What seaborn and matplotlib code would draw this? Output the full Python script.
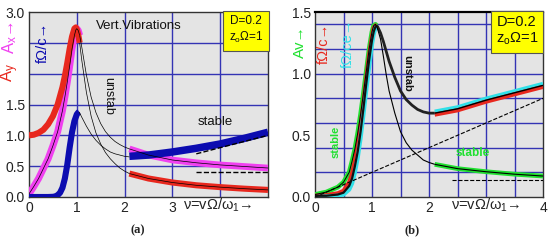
import matplotlib
matplotlib.use("Agg")
import matplotlib.pyplot as plt
import seaborn as sns

# ---------------- Panel (a) data ----------------
a_rise_x = [0, 0.1, 0.2, 0.3, 0.4, 0.5, 0.6, 0.7, 0.75, 0.8, 0.85, 0.9, 0.95, 0.98, 1.0, 1.03, 1.06]
Ay_rise = [1.00, 1.01, 1.04, 1.09, 1.18, 1.31, 1.50, 1.78, 1.96, 2.17, 2.40, 2.60, 2.73, 2.75, 2.72, 2.63, 2.50]
Ax_rise = [0.05, 0.17, 0.30, 0.46, 0.62, 0.83, 1.06, 1.40, 1.62, 1.86, 2.12, 2.40, 2.62, 2.71, 2.73, 2.70, 2.62]
fc_rise_x = [0, 0.2, 0.4, 0.5, 0.55, 0.6, 0.65, 0.7, 0.75, 0.8, 0.85, 0.9, 0.95, 1.0, 1.03, 1.05]
fc_rise = [0, 0, 0, 0.003, 0.01, 0.03, 0.07, 0.15, 0.30, 0.52, 0.80, 1.05, 1.23, 1.34, 1.37, 1.38]

a_unst_x = [1.06, 1.1, 1.2, 1.3, 1.4, 1.5, 1.6, 1.7, 1.8, 1.9, 2.0, 2.1]
Ay_unst = [2.50, 2.24, 1.70, 1.31, 1.04, 0.86, 0.72, 0.62, 0.54, 0.47, 0.42, 0.38]
Ax_unst = [2.62, 2.45, 1.98, 1.62, 1.37, 1.19, 1.06, 0.97, 0.90, 0.85, 0.81, 0.78]
fc_unst_x = [1.05, 1.1, 1.2, 1.3, 1.4, 1.5, 1.6, 1.7, 1.8, 1.9, 2.0, 2.1]
fc_unst = [1.38, 1.30, 1.15, 1.02, 0.92, 0.84, 0.78, 0.73, 0.70, 0.68, 0.66, 0.65]

a_st_x = [2.1, 2.5, 3.0, 3.5, 4.0, 4.5, 5.0]
Ay_st = [0.38, 0.30, 0.235, 0.19, 0.16, 0.135, 0.115]
Ax_st = [0.78, 0.68, 0.60, 0.555, 0.52, 0.495, 0.47]
fc_st = [0.66, 0.68, 0.73, 0.79, 0.86, 0.95, 1.05]

a_asym_x = [3.5, 5.0]
a_asym_y = [0.70, 1.00]
a_hl_x = [3.5, 5.0]
a_hl_y = [0.40, 0.40]

# ---------------- Panel (b) data ----------------
b_rise_x = [0, 0.2, 0.4, 0.5, 0.6, 0.65, 0.7, 0.75, 0.8, 0.85, 0.9, 0.95, 1.0, 1.03, 1.06, 1.08]
Av_rise = [0.02, 0.04, 0.08, 0.12, 0.20, 0.29, 0.39, 0.52, 0.67, 0.84, 1.02, 1.20, 1.34, 1.39, 1.40, 1.39]
fc_b_rise = [0.01, 0.015, 0.03, 0.05, 0.12, 0.19, 0.29, 0.42, 0.58, 0.76, 0.96, 1.15, 1.30, 1.37, 1.39, 1.39]
fce_rise = [0.0, 0.005, 0.01, 0.02, 0.06, 0.11, 0.20, 0.32, 0.48, 0.67, 0.87, 1.06, 1.24, 1.32, 1.37, 1.38]
blk_rise = [0.01, 0.01, 0.02, 0.035, 0.09, 0.15, 0.25, 0.37, 0.53, 0.72, 0.92, 1.11, 1.27, 1.34, 1.38, 1.39]

b_up_unst_x = [1.08, 1.1, 1.15, 1.2, 1.3, 1.4, 1.5, 1.6, 1.7, 1.8, 1.9, 2.0, 2.1]
b_up_unst = [1.39, 1.38, 1.33, 1.26, 1.10, 0.97, 0.86, 0.79, 0.745, 0.71, 0.69, 0.68, 0.68]
b_lo_unst_x = [1.08, 1.1, 1.15, 1.2, 1.25, 1.3, 1.4, 1.5, 1.6, 1.7, 1.8, 1.9, 2.0, 2.1]
b_lo_unst = [1.39, 1.36, 1.28, 1.14, 0.99, 0.86, 0.68, 0.53, 0.44, 0.38, 0.34, 0.30, 0.28, 0.265]

b_st_x = [2.1, 2.5, 3.0, 3.5, 4.0]
fc_b_st = [0.668, 0.703, 0.773, 0.833, 0.893]
fce_st = [0.692, 0.727, 0.797, 0.857, 0.917]
up_st = [0.68, 0.715, 0.785, 0.845, 0.905]
Av_st = [0.265, 0.23, 0.205, 0.185, 0.17]

b_diag_x = [0, 4]
b_diag_y = [0, 0.8]
b_hl_x = [2.4, 4]
b_hl_y = [0.14, 0.14]

# ---------------- style ----------------
sns.set_theme(style="white")
plt.rcParams["font.family"] = ["Liberation Sans", "DejaVu Sans"]
plt.rcParams["mathtext.fontset"] = "custom"
plt.rcParams["mathtext.rm"] = "Liberation Sans"
plt.rcParams["mathtext.it"] = "Liberation Sans"
plt.rcParams["mathtext.bf"] = "Liberation Sans:bold"

RED = "#e8281e"
MAG = "#f040f0"
BLUE = "#0c0cb0"
GREEN = "#20e030"
CYAN = "#30e0e8"
GRID = "#3434b4"
BG = "#e4e4e4"

W, H = 550, 242
fig = plt.figure(figsize=(5.5, 2.42), dpi=100)


def px_axes(l, t, r, b):
    return fig.add_axes([l / W, 1 - b / H, (r - l) / W, (b - t) / H])


def line(ax, x, y, color, lw, ls="-", z=3):
    sns.lineplot(x=x, y=y, ax=ax, color=color, linewidth=lw, linestyle=ls,
                 sort=False, estimator=None, legend=False,
                 solid_capstyle="butt", zorder=z)


def style_ax(ax, xlim, ylim, xmaj, xlab, xgrid, ymaj, ylab, ygrid):
    ax.set_facecolor(BG)
    ax.set_xlim(*xlim)
    ax.set_ylim(*ylim)
    ax.set_xticks(xmaj)
    ax.set_xticklabels(xlab)
    ax.set_yticks(ymaj)
    ax.set_yticklabels(ylab)
    ax.grid(False)
    for g in xgrid:
        ax.axvline(g, color=GRID, linewidth=1.0, zorder=1)
    for g in ygrid:
        ax.axhline(g, color=GRID, linewidth=1.0, zorder=1)
    ax.tick_params(which="both", length=0, labelsize=10, colors="#222222")
    ax.tick_params(axis="y", pad=3)
    ax.tick_params(axis="x", pad=3)
    for s in ax.spines.values():
        s.set_color("#333333")
        s.set_linewidth(1.0)
    ax.set_xlabel("")
    ax.set_ylabel("")


# ---------------- Panel (a) ----------------
axA = px_axes(29, 12, 268, 197)
line(axA, a_rise_x, Ax_rise, MAG, 5.0)
line(axA, a_rise_x, Ay_rise, RED, 4.4)
line(axA, fc_rise_x, fc_rise, BLUE, 4.4)
line(axA, a_st_x, Ay_st, RED, 4.4)
line(axA, a_st_x, Ax_st, MAG, 4.8)
line(axA, a_st_x, fc_st, BLUE, 5.4)
for xs, ys in [(a_rise_x, Ax_rise), (a_unst_x, Ay_unst), (a_unst_x, Ax_unst),
               (fc_unst_x, fc_unst), (a_st_x, Ax_st), (a_st_x, Ay_st)]:
    line(axA, xs, ys, "black", 0.5, z=4)
line(axA, a_asym_x, a_asym_y, "black", 1.0, "--")
line(axA, a_hl_x, a_hl_y, "black", 1.0, "--")
style_ax(axA, (0, 5), (0, 3.0), [0, 1, 2, 3], ["0", "1", "2", "3"], [1, 2, 3, 4],
         [0, 0.5, 1.0, 1.5, 3.0], ["0.0", "0.5", "1.0", "1.5", "3.0"],
         [0.5, 1.0, 1.5, 2.0, 2.5])

# ---------------- Panel (b) ----------------
axB = px_axes(315, 12, 543, 197)
line(axB, b_rise_x, Av_rise, GREEN, 3.4)
line(axB, b_rise_x, fc_b_rise, RED, 3.0)
line(axB, b_rise_x, fce_rise, CYAN, 3.0)
line(axB, b_st_x, fce_st, CYAN, 3.0)
line(axB, b_st_x, fc_b_st, RED, 3.0)
line(axB, b_st_x, Av_st, GREEN, 3.4)
line(axB, b_rise_x, blk_rise, "#111111", 1.6, z=4)
line(axB, b_up_unst_x, b_up_unst, "#222222", 2.0, z=4)
line(axB, b_rise_x, Av_rise, "black", 0.7, z=4)
line(axB, b_lo_unst_x, b_lo_unst, "black", 0.8, z=4)
line(axB, b_st_x, up_st, "black", 1.0, z=4)
line(axB, b_st_x, Av_st, "black", 0.8, z=4)
line(axB, b_diag_x, b_diag_y, "black", 0.8, "--")
line(axB, b_hl_x, b_hl_y, "black", 0.8, "--")
style_ax(axB, (0, 4), (0, 1.5), [0, 1, 2, 4], ["0", "1", "2", "4"],
         [0.5, 1.0, 1.5, 2.0, 2.5, 3.0, 3.5],
         [0, 0.5, 1.0, 1.5], ["0.0", "0.5", "1.0", "1.5"],
         [0.2, 0.4, 0.6, 0.8, 1.0, 1.2, 1.4])
axB.spines["top"].set_linewidth(1.6)
axB.spines["top"].set_color("black")


# ---------------- texts ----------------
def ftext(x, y, s, **kw):
    fig.text(x / W, 1 - y / H, s, **kw)


# panel (a)
ftext(10, 72, r"A$_y$", color=RED, fontsize=12, rotation=90, ha="center", va="center")
ftext(10, 38, r"A$_x$→", color=MAG, fontsize=12, rotation=90, ha="center", va="center")
ftext(43, 42, "fΩ/c→", color=BLUE, fontsize=10.5, rotation=90, ha="center", va="center")
ftext(139, 26, "Vert.Vibrations", color="#111111", fontsize=9.5, ha="center", va="center")
ftext(108, 96, "unstab", color="#111111", fontsize=9, rotation=270, ha="center", va="center")
ftext(215, 122, "stable", color="#111111", fontsize=9.5, ha="center", va="center")
ftext(246, 30, "D=0.2\nz$_o$Ω=1", fontsize=8.5, ha="center", va="center", color="#111111",
      linespacing=1.3,
      bbox=dict(boxstyle="square,pad=0.45", facecolor="#ffff00", edgecolor="#555555", linewidth=0.8))
ftext(218, 205, "ν=vΩ/ω$_1$→", fontsize=10.5, ha="center", va="center", color="#222222")
ftext(138, 230, "(a)", fontsize=9, ha="center", va="center", family="Liberation Serif",
      fontweight="bold", color="#222222")

# panel (b)
ftext(300, 42, "Av→", color=GREEN, fontsize=11, rotation=90, ha="center", va="center")
ftext(324, 43, "fΩ/c→", color=RED, fontsize=10.5, rotation=90, ha="center", va="center")
ftext(348, 43, "fΩ/ce→", color=CYAN, fontsize=10.5, rotation=90, ha="center", va="center")
ftext(407, 73, "unstab", color="#111111", fontsize=8, rotation=270, ha="center",
      va="center", fontweight="bold")
ftext(336, 142, "stable", color=GREEN, fontsize=8, rotation=90, ha="center",
      va="center", fontweight="bold")
ftext(473, 153, "stable", color=GREEN, fontsize=8.5, ha="center", va="center",
      fontweight="bold")
ftext(517, 31, "D=0.2\nz$_o$Ω=1", fontsize=10.5, ha="center", va="center", color="#111111",
      linespacing=1.2,
      bbox=dict(boxstyle="square,pad=0.35", facecolor="#ffff00", edgecolor="#555555", linewidth=0.8))
ftext(486, 205, "ν=vΩ/ω$_1$→", fontsize=10.5, ha="center", va="center", color="#222222")
ftext(412, 230, "(b)", fontsize=9, ha="center", va="center", family="Liberation Serif",
      fontweight="bold", color="#222222")

fig.savefig("out.png", dpi=100)
